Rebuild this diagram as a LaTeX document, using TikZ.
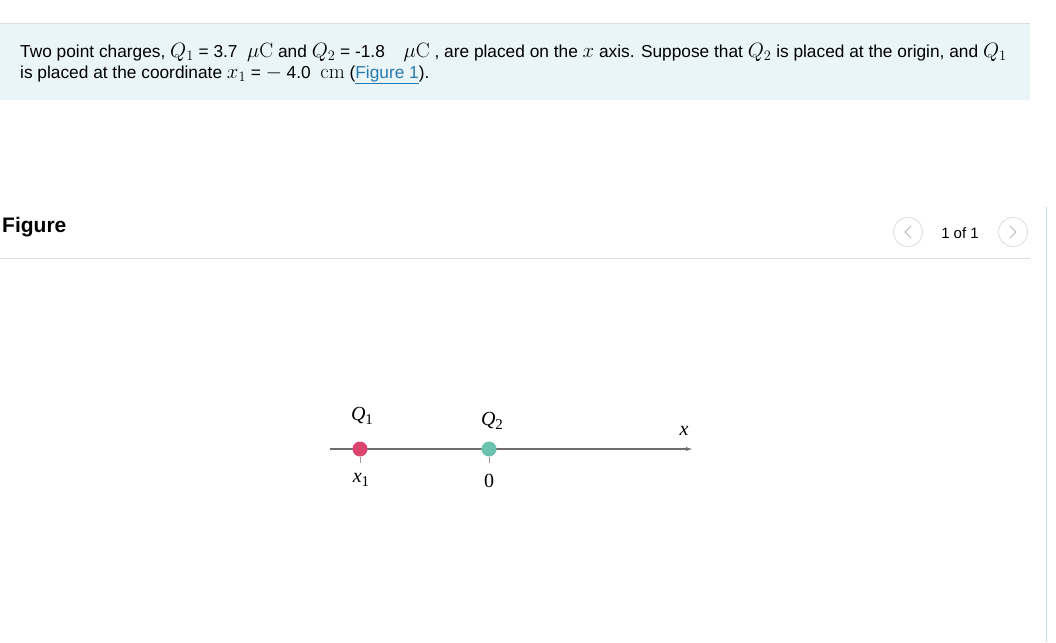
\documentclass[tikz,border=0pt]{standalone}
\usepackage[no-math]{fontspec}
\setmainfont{Liberation Sans}
\newfontfamily\figserif{Liberation Serif}
\usetikzlibrary{positioning,arrows.meta}
\definecolor{boxbg}{HTML}{EAF5F7}
\definecolor{rulegray}{HTML}{DDDDDD}
\definecolor{sidebar}{HTML}{C9D6E3}
\definecolor{axisgray}{HTML}{6E6E6E}
\definecolor{qone}{HTML}{DC4470}
\definecolor{qtwo}{HTML}{6CC2AE}
\definecolor{linkblue}{HTML}{2A7AB0}
% bigger math, as the page sets it
\newcommand{\mth}[1]{{\fontsize{20.5}{21}\selectfont$#1$}}
% serif italic letter with a lowered upright index
\newcommand{\figsub}[2]{\textit{#1}\raisebox{-4pt}{\fontsize{15}{15}\selectfont #2}}
\tikzset{
  prose/.style={anchor=base west, inner sep=0, font=\fontsize{17.3}{21}\selectfont},
  charge/.style={circle, inner sep=0, minimum size=15pt},
  lbl/.style={inner sep=0, font=\figserif\fontsize{20}{20}\selectfont},
  pager/.style={circle, draw=rulegray, line width=0.8pt, minimum size=29pt, inner sep=0},
  chevron/.style={draw=gray!55, line width=1pt}
}
\begin{document}
\begin{tikzpicture}[x=1pt, y=-1pt]
	\useasboundingbox (0,0) rectangle (1056,642);
	\fill[white] (0,0) rectangle (1056,642);
	
	% problem text
	\fill[boxbg] (0,23) rectangle (1030,100);
	\draw[rulegray] (0,23) -- (1030,23);
	\node (line1) [prose] at (20,57) {Two point charges, \mth{Q_1} = 3.7 \ \mth{\mu\mathrm{C}} and \mth{Q_2} = -1.8 \hspace{14pt}\mth{\mu\mathrm{C}} , are placed on the \mth{x} axis. Suppose that \mth{Q_2} is placed at the origin, and \mth{Q_1}};
	\node (line2) [prose] at (20,78) {is placed at the coordinate \mth{x_1} = \mth{-} 4.0 \ \mth{\mathrm{cm}} ({\color{linkblue}\underline{Figure 1}}).};
	
	% figure header
	\node (fig) [anchor=west, inner sep=0, font=\bfseries\fontsize{21}{21}\selectfont] at (2,227) {Figure};
	\draw[rulegray] (0,258) -- (1030,258);
	\draw[sidebar, line width=1pt] (1046,207) -- (1046,642);
	\node (prev) [pager] at (908,232) {};
	\node (count) [inner sep=0, font=\fontsize{15}{15}\selectfont] at (960,233) {1 of 1};
	\node (next) [pager] at (1013,232) {};
	\draw[chevron] ([shift={(3,-6)}]prev.center) -- ++(-6,6) -- ++(6,6);
	\draw[chevron] ([shift={(-3,-6)}]next.center) -- ++(6,6) -- ++(-6,6);
	
	% axis with the charges
	\coordinate (axl) at (330,449);
	\coordinate (axr) at (693,449);
	\draw[axisgray, line width=1.2pt, -{Latex[length=7pt,width=4pt]}] (axl) -- (axr);
	\node (q1) [charge, fill=qone] at (360,449) {};
	\node (q2) [charge, fill=qtwo] at (489,449) {};
	\draw[axisgray!70] (q1) -- (360,463);
	\draw[axisgray!70] (q2) -- (489,463);
	\node (x1) [lbl] at (361,480) {\figsub{x}{1}};
	\node (zero) [lbl] at (489,481) {0};
	\node (lq1) [lbl] at (362,416) {\figsub{Q}{1}};
	\node (lq2) [lbl] at (492,421) {\figsub{Q}{2}};
	\node (lx) [lbl] at (684,431) {\textit{x}};
\end{tikzpicture}
\end{document}
